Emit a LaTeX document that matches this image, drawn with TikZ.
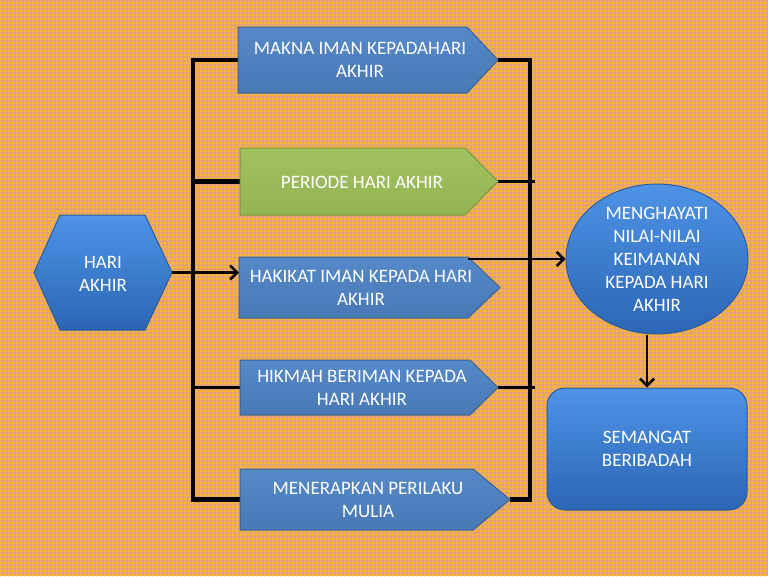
\documentclass[tikz,border=0pt]{standalone}
\usepackage{fontspec}
\setmainfont{Carlito}
\usetikzlibrary{arrows.meta,patterns,shapes.geometric}
\pgfdeclarepatternformonly{ydots}{\pgfqpoint{0pt}{0pt}}{\pgfqpoint{4.4pt}{4.4pt}}{\pgfqpoint{4.4pt}{4.4pt}}{\pgfpathcircle{\pgfqpoint{2.2pt}{2.2pt}}{1.75pt}\pgfusepath{fill}}
\definecolor{bgtan}{HTML}{E2A27C}
\definecolor{dotyel}{HTML}{FFB91E}
\definecolor{blueA}{HTML}{5689C8}
\definecolor{blueB}{HTML}{4879B5}
\definecolor{blueE}{HTML}{3B6494}
\definecolor{greenA}{HTML}{A2C262}
\definecolor{greenB}{HTML}{94B353}
\definecolor{greenE}{HTML}{7A9A45}
\definecolor{brA}{HTML}{4E93E6}
\definecolor{brB}{HTML}{2B66B4}
\definecolor{brE}{HTML}{2C5C9E}
\begin{document}
\begin{tikzpicture}[x=1pt,y=-1pt,
  body/.style={rectangle,inner sep=0pt,outer sep=0pt},
  txt/.style={text=white,font=\fontsize{19}{23}\selectfont,align=center,inner sep=0pt},
  bluebox/.style={draw=blueE,line width=1pt,top color=blueA,bottom color=blueB},
  greenbox/.style={draw=greenE,line width=1pt,top color=greenA,bottom color=greenB},
  brightbox/.style={draw=brE,line width=1pt,top color=brA,bottom color=brB},
  bar/.style={line width=4.5pt,line join=miter},
  thinline/.style={line width=2.2pt},
  arr/.style={line width=2.5pt,-{Straight Barb[length=7pt,width=14pt]}}
]
\fill[bgtan] (0,0) rectangle (768,576);
\fill[pattern=ydots,pattern color=dotyel] (0,0) rectangle (768,576);
\useasboundingbox (0,0) rectangle (768,576);

% body nodes
\node[body,minimum width=229pt,minimum height=66pt] (makna) at (352.5,60) {};
\node[body,minimum width=225pt,minimum height=67pt] (periode) at (352.5,181.5) {};
\node[body,minimum width=229pt,minimum height=61pt] (hakikat) at (353.5,287.5) {};
\node[body,minimum width=230pt,minimum height=55pt] (hikmah) at (355,387.5) {};
\node[body,minimum width=233pt,minimum height=61pt] (terap) at (356.5,499.5) {};
\node[body,minimum width=138pt,minimum height=115pt] (hex) at (103,272.5) {};

\coordinate (maknatip) at ([xshift=31pt]makna.east);
\coordinate (periodetip) at ([xshift=33pt]periode.east);
\coordinate (hikmahtip) at ([xshift=28pt]hikmah.east);
\coordinate (teraptip) at ([xshift=37pt]terap.east);
\coordinate (lt) at (193,60);
\coordinate (lb) at (193,499.5);
\coordinate (rt) at (530,60);
\coordinate (rb) at (530,499.5);
\coordinate (pr) at (535,181.5);
\coordinate (hr) at (535,387.5);

% connectors (behind boxes)
\draw[bar] (makna.west) -- (lt) -- (lb) -- (terap.west);
\draw[bar] (maknatip) -- (rt) -- (rb) -- (teraptip);
\draw[bar] (lt |- periode.west) -- (periode.west);
\draw[thinline] (periodetip) -- (pr);
\draw[thinline] (lt |- hikmah.west) -- (hikmah.west);
\draw[thinline] (hikmahtip) -- (hr);

% boxes
\path[bluebox] (makna.north west) -- (makna.north east) -- (maknatip) -- (makna.south east) -- (makna.south west) -- cycle;
\path[greenbox] (periode.north west) -- (periode.north east) -- (periodetip) -- (periode.south east) -- (periode.south west) -- cycle;
\path[bluebox] (hakikat.north west) -- (hakikat.north east) -- ([xshift=32pt]hakikat.east) -- (hakikat.south east) -- (hakikat.south west) -- cycle;
\path[bluebox] (hikmah.north west) -- (hikmah.north east) -- (hikmahtip) -- (hikmah.south east) -- (hikmah.south west) -- cycle;
\path[bluebox] (terap.north west) -- (terap.north east) -- (teraptip) -- (terap.south east) -- (terap.south west) -- cycle;

\node[txt] (t1) at (360,60) {MAKNA IMAN KEPADAHARI\\AKHIR};
\node[txt] (t2) at (362,182) {PERIODE HARI AKHIR};
\node[txt] (t3) at (361,288) {HAKIKAT IMAN KEPADA HARI\\AKHIR};
\node[txt] (t4) at (362,388) {HIKMAH BERIMAN KEPADA\\HARI AKHIR};
\node[txt] (t5) at (368,500) {MENERAPKAN PERILAKU\\MULIA};

% hexagon
\path[brightbox] (hex.west) -- ([xshift=26pt]hex.north west) -- ([xshift=-27pt]hex.north east) -- (hex.east) -- ([xshift=-27pt]hex.south east) -- ([xshift=26pt]hex.south west) -- cycle;
\node[txt] (hext) at (103,274) {HARI\\AKHIR};

% ellipse and rounded rectangle
\node[ellipse,brightbox,minimum width=182pt,minimum height=150pt,inner sep=0pt,txt] (ell) at (657,259) {MENGHAYATI\\NILAI-NILAI\\KEIMANAN\\KEPADA HARI\\AKHIR};
\node[rectangle,rounded corners=18pt,brightbox,minimum width=200pt,minimum height=122pt,txt] (sem) at (647,449) {SEMANGAT\\BERIBADAH};

% arrows
\draw[arr] (hex.east) -- (hex.east -| hakikat.west);
\draw[arr] ([yshift=-2pt]hakikat.north east) -- (ell.west);
\draw[arr] (sem.north |- ell.south) -- (sem.north);
\end{tikzpicture}
\end{document}
